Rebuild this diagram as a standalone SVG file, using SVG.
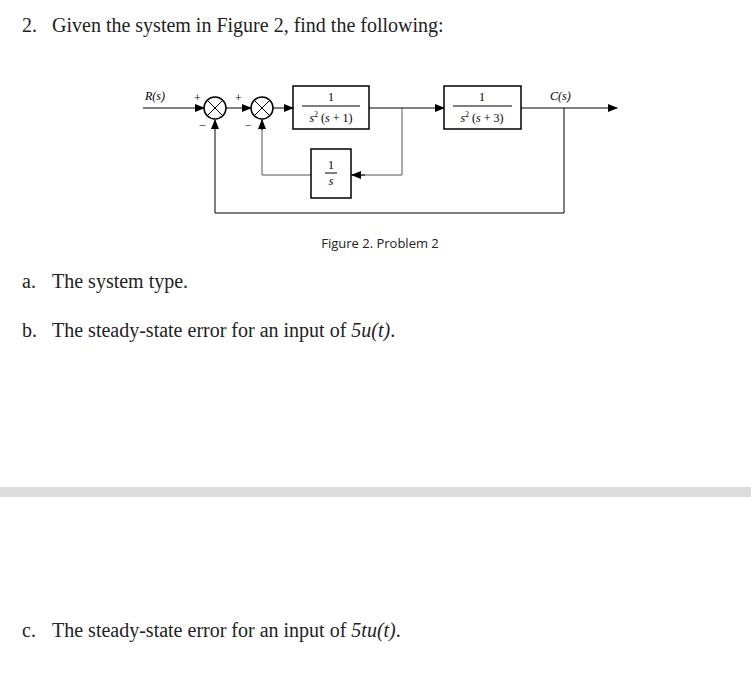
<svg xmlns="http://www.w3.org/2000/svg" width="751" height="680" viewBox="0 0 751 680">
<defs><marker id="ah" markerWidth="10" markerHeight="8" refX="9" refY="4" orient="auto" markerUnits="userSpaceOnUse"><path d="M0,0 L10,4 L0,8 z" fill="#000"/></marker></defs>
<style>
.t{font-family:"Liberation Serif",serif;font-size:20px;fill:#222}
.d{font-family:"Liberation Serif",serif;font-size:12px;fill:#000}
.i{font-style:italic}
.b{fill:#fff;stroke:#000;stroke-width:1.5}
.w{fill:none;stroke:#000;stroke-width:1}
.g{fill:none;stroke:#555;stroke-width:1}
</style>
<rect width="751" height="680" fill="#fff"/>
<text class="t" x="22" y="32">2.</text><text class="t" x="52" y="32">Given the system in Figure 2, find the following:</text>
<g id="connectors">
<line class="w" x1="143" y1="108" x2="204" y2="108" marker-end="url(#ah)"/>
<line class="w" x1="226" y1="108" x2="251" y2="108" marker-end="url(#ah)"/>
<line class="w" x1="273" y1="108" x2="293" y2="108" marker-end="url(#ah)"/>
<line class="w" x1="369" y1="108" x2="444" y2="108" marker-end="url(#ah)"/>
<line class="w" x1="521" y1="108" x2="617" y2="108" marker-end="url(#ah)"/>
<polyline class="g" points="402,108 402,175 351,175"/>
<line class="w" x1="365" y1="175" x2="352" y2="175" marker-end="url(#ah)"/>
<polyline class="g" points="311,175 262,175 262,119"/>
<line class="w" x1="262" y1="130" x2="262" y2="120" marker-end="url(#ah)"/>
<polyline class="w" points="564,108 564,213 215,213 215,120" marker-end="url(#ah)"/>
</g>
<g id="sum1"><circle class="b" cx="215" cy="108" r="11"/><path class="w" d="M207,100 L223,116 M223,100 L207,116"/>
<text class="d" x="194" y="102">+</text><text class="d" x="199" y="129">−</text></g>
<g id="sum2"><circle class="b" cx="262" cy="108" r="11"/><path class="w" d="M254,100 L270,116 M270,100 L254,116"/>
<text class="d" x="235" y="102">+</text><text class="d" x="245" y="129">−</text></g>
<g id="labels"><text class="d i" x="145" y="100">R(s)</text><text class="d i" x="550" y="100">C(s)</text></g>
<g id="g1"><rect class="b" x="293" y="86" width="76" height="43"/>
<text class="d" x="331" y="101" text-anchor="middle">1</text><line class="w" x1="302" y1="106" x2="360" y2="106"/>
<text class="d" x="331" y="122" text-anchor="middle"><tspan class="i">s</tspan><tspan font-size="8" dy="-5">2</tspan><tspan dy="5"> (</tspan><tspan class="i">s</tspan> + 1)</text></g>
<g id="g2"><rect class="b" x="444" y="86" width="77" height="43"/>
<text class="d" x="482" y="101" text-anchor="middle">1</text><line class="w" x1="453" y1="106" x2="512" y2="106"/>
<text class="d" x="482" y="122" text-anchor="middle"><tspan class="i">s</tspan><tspan font-size="8" dy="-5">2</tspan><tspan dy="5"> (</tspan><tspan class="i">s</tspan> + 3)</text></g>
<g id="h"><rect class="b" x="311" y="149" width="40" height="49"/>
<text class="d" x="331" y="169" text-anchor="middle">1</text><line class="w" x1="325" y1="173" x2="337" y2="173"/>
<text class="d i" x="331" y="185" text-anchor="middle">s</text></g>
<text x="380" y="248" text-anchor="middle" font-family="'Open Sans',sans-serif" font-size="13" fill="#222">Figure 2. Problem 2</text>
<text class="t" x="22" y="288">a.</text><text class="t" x="52" y="288">The system type.</text>
<text class="t" x="22" y="337">b.</text><text class="t" x="52" y="337">The steady-state error for an input of <tspan font-style="italic">5u(t)</tspan>.</text>
<rect x="0" y="487" width="751" height="10" fill="#dcdcdc"/>
<text class="t" x="22" y="637">c.</text><text class="t" x="52" y="637">The steady-state error for an input of <tspan font-style="italic">5tu(t)</tspan>.</text>
</svg>
